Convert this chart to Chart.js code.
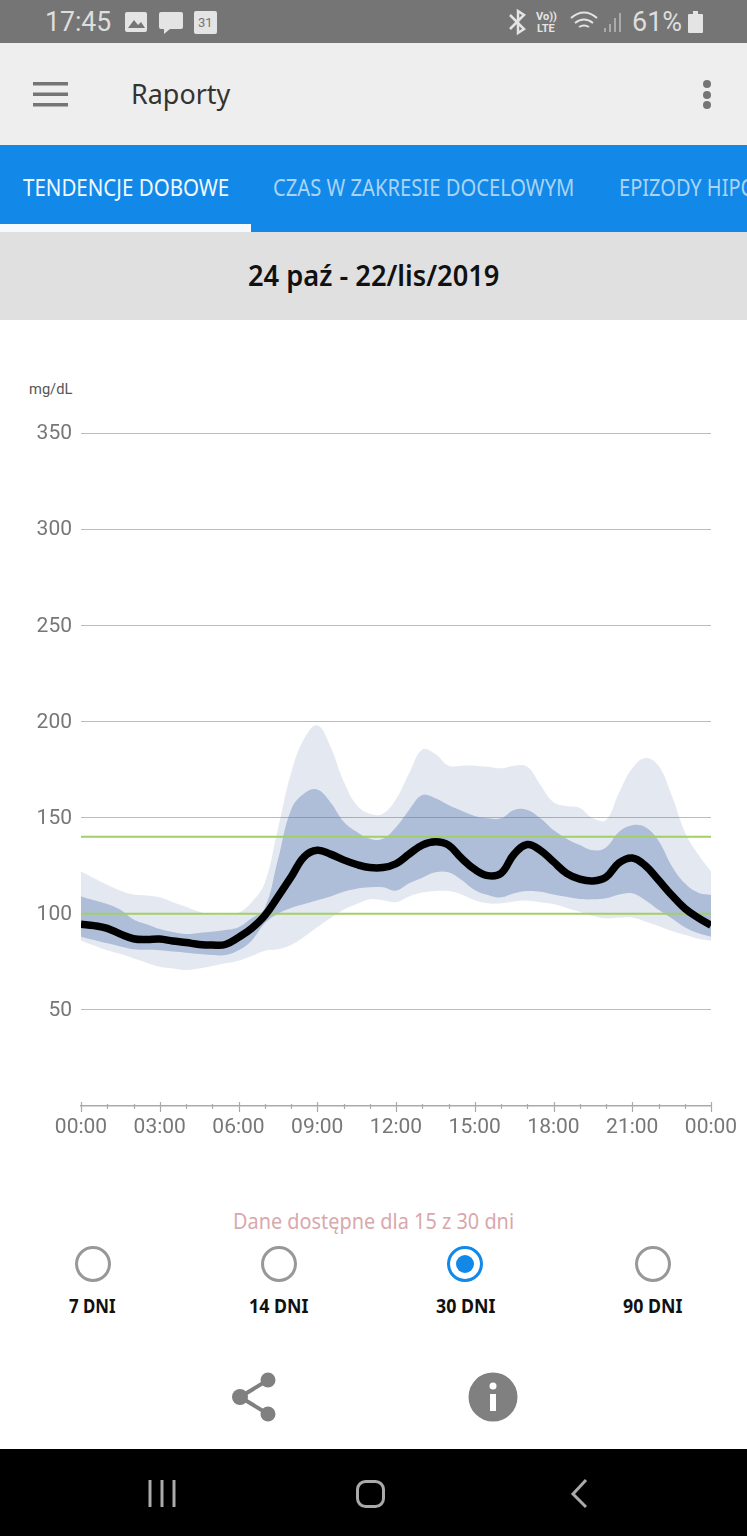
<!DOCTYPE html>
<html lang="pl">
<head>
<meta charset="utf-8">
<title>Raporty</title>
<script src="https://cdn.jsdelivr.net/npm/chart.js@4"></script>
<style>
  html, body { margin: 0; padding: 0; background: #fff; }
  body { position: relative; width: 747px; height: 1536px; overflow: hidden; font-family: "Noto Sans", sans-serif; }
  .box { position: absolute; }
  .t { position: absolute; white-space: nowrap; line-height: 1; transform-origin: left center; }
  svg { position: absolute; overflow: visible; }
  .radio { position: absolute; top: 1246px; width: 30px; height: 30px; border: 3.5px solid #989898; border-radius: 50%; }
  .radio.on { border-color: #1289e8; }
  .radio.on::after { content: ""; position: absolute; left: 6px; top: 6px; width: 18px; height: 18px; border-radius: 50%; background: #1289e8; }
  #wrap { position: absolute; left: 0; top: 370px; width: 747px; height: 780px; }
</style>
</head>
<body>
<div class="box" style="left:0;top:0;width:747px;height:43px;background:#757575"></div>
<div class="box" style="left:0;top:43px;width:747px;height:102px;background:#eeeeee"></div>
<div class="box" style="left:0;top:145px;width:747px;height:87px;background:#1289e8"></div>
<div class="box" style="left:0;top:224px;width:251px;height:8px;background:#f4fafd"></div>
<div class="box" style="left:0;top:232px;width:747px;height:88px;background:#e0e0e0"></div>
<div class="box" style="left:0;top:1449px;width:747px;height:87px;background:#000"></div>

<!-- status bar -->
<div class="t" data-w="66" style="left:45px;top:9px;font:27px/1 Roboto;color:#dedede">17:45</div>
<svg style="left:0;top:0" width="747" height="43" fill="#e4e4e4">
  <rect x="125" y="12" width="22" height="20" rx="2"/>
  <path d="M128 28l6-8 4 5 3-3 4 6z" fill="#757575"/>
  <path d="M161 12h20a2 2 0 0 1 2 2v13a2 2 0 0 1-2 2h-11l-6 5v-5h-3a2 2 0 0 1-2-2v-13a2 2 0 0 1 2-2z"/>
  <rect x="194" y="11" width="23" height="23" rx="2"/>
  <path d="M510 15l14 14-6 4v-22l6 4-14 14" fill="none" stroke="#e4e4e4" stroke-width="2.5"/>
  <path d="M571 18q13-11 26 0M575 23q9-7 18 0M579 27q5-3 10 0" fill="none" stroke="#e4e4e4" stroke-width="2"/>
  <rect x="604" y="28" width="2" height="4" fill="#aaa"/><rect x="609" y="24" width="2" height="8" fill="#aaa"/>
  <rect x="614" y="18" width="2" height="14" fill="#aaa"/><rect x="619" y="13" width="2" height="19" fill="#aaa"/>
  <rect x="688" y="14" width="15" height="19" rx="1"/><rect x="693" y="11" width="5" height="3"/>
</svg>
<div class="t" style="left:198px;top:16px;font:13px/1 Roboto;color:#757575">31</div>
<div class="t" style="left:536px;top:11px;font:bold 11px/1 Roboto;color:#e4e4e4">Vo))</div>
<div class="t" style="left:537px;top:23px;font:bold 11px/1 Roboto;color:#e4e4e4">LTE</div>
<div class="t" data-w="50" style="left:632px;top:9px;font:27px/1 Roboto;color:#dedede">61%</div>

<!-- app bar -->
<svg style="left:0;top:0" width="747" height="145" fill="#757575">
  <rect x="33" y="82" width="35" height="3.5"/><rect x="33" y="92.5" width="35" height="3.5"/><rect x="33" y="103" width="35" height="3.5"/>
  <circle cx="707" cy="84" r="4"/><circle cx="707" cy="95" r="4"/><circle cx="707" cy="105" r="4"/>
</svg>
<div class="t" data-w="99" style="left:131px;top:79px;font-size:28px;color:#333">Raporty</div>

<!-- tabs -->
<div class="t" data-w="206" style="left:23px;top:176px;font-size:23px;color:#f2f9fe">TENDENCJE DOBOWE</div>
<div class="t" data-w="301" style="left:273px;top:176px;font-size:23px;color:#a9d4f6">CZAS W ZAKRESIE DOCELOWYM</div>
<div class="t" id="tab3" style="left:619px;top:176px;font-size:23px;color:#a9d4f6;transform:scaleX(0.87)">EPIZODY HIPOGLIKEMII</div>

<!-- date -->
<div class="t" data-w="251" style="left:248px;top:261px;font-size:28px;font-weight:600;color:#111">24 paź - 22/lis/2019</div>

<!-- chart -->
<div class="t" data-w="43" style="left:29px;top:382px;font:14px/1 Roboto;color:#555">mg/dL</div>
<div id="wrap"><canvas id="myChart" width="747" height="780"></canvas></div>

<!-- footer -->
<div class="t" data-w="281" style="left:233px;top:1209px;font-size:22px;color:#d9a8ad">Dane dostępne dla 15 z 30 dni</div>
<div class="radio" style="left:75px"></div>
<div class="radio" style="left:261px"></div>
<div class="radio on" style="left:447px"></div>
<div class="radio" style="left:635px"></div>
<div class="t" data-w="47" style="left:69px;top:1297px;font-size:19px;font-weight:700;color:#111">7 DNI</div>
<div class="t" data-w="59" style="left:249px;top:1297px;font-size:19px;font-weight:700;color:#111">14 DNI</div>
<div class="t" data-w="59" style="left:436px;top:1297px;font-size:19px;font-weight:700;color:#111">30 DNI</div>
<div class="t" data-w="59" style="left:623px;top:1297px;font-size:19px;font-weight:700;color:#111">90 DNI</div>

<svg style="left:0;top:1360px" width="747" height="176">
  <path d="M268 20L240 37L268 54" fill="none" stroke="#808080" stroke-width="4"/>
  <circle cx="268" cy="20" r="7.5" fill="#808080"/><circle cx="240" cy="37" r="8" fill="#808080"/><circle cx="268" cy="54" r="7.5" fill="#808080"/>
  <circle cx="493" cy="37" r="24.5" fill="#808080"/>
  <rect x="490" y="34" width="6" height="17" fill="#fff"/><circle cx="493" cy="26" r="3.5" fill="#fff"/>
  <path d="M150 120v27M162 120v27M174 120v27" stroke="#aaa" stroke-width="3"/>
  <rect x="357.500" y="121.500" width="26" height="25" rx="8" fill="none" stroke="#aaa" stroke-width="3"/>
  <path d="M586 120L573 134L586 147" fill="none" stroke="#aaa" stroke-width="3"/>
</svg>

<script>
const hours = [0, 0.5, 1, 1.5, 2, 2.5, 3, 3.5, 4, 4.5, 5, 5.5, 6, 6.5, 7, 7.5, 8, 8.5, 9, 9.5, 10, 10.5, 11, 11.5,
  12, 12.5, 13, 13.5, 14, 14.5, 15, 15.5, 16, 16.5, 17, 17.5, 18, 18.5, 19, 19.5, 20, 20.5, 21, 21.5, 22, 22.5, 23, 23.5, 24];

const median = [94.5, 93.8, 92.4, 89.4, 87, 86.6, 86.8, 85.8, 85, 84, 83.7, 84, 87.7, 92.4, 99, 108.8, 119, 129.6, 133, 131, 128, 125.6, 124, 124,
  126, 131, 135.7, 137.4, 135.7, 128.8, 123, 119.8, 121, 131, 136, 133, 127, 121, 118, 117, 119, 126.5, 129, 125, 117.5, 109.7, 102.8, 98, 94];
const outerHigh = [122, 118.5, 115, 112, 110, 109.5, 108.5, 106, 103.6, 101, 99.8, 99.5, 100.5, 106, 116, 144, 173, 191, 198, 187, 169, 156.5, 152, 152,
  159.5, 173, 185.4, 183, 177, 177, 177, 176.4, 175.6, 177, 176.4, 167, 158, 156, 155, 149.6, 148.7, 163, 175.6, 181, 177, 161.7, 142.6, 131, 122];
const innerHigh = [109, 107, 105, 102, 97, 94.5, 92, 90.5, 89.4, 90, 90.6, 91.5, 93, 97.6, 103, 128, 154, 162.5, 164.6, 158, 148, 142.6, 139, 139,
  145, 154, 161.7, 160, 156.5, 153.5, 150.8, 149.6, 149.6, 154, 154, 149.6, 143.5, 139, 135.7, 133, 134.5, 142.6, 146, 145, 138, 125, 115.8, 111, 109.7];
const innerLow = [88, 86.3, 84.6, 83, 81.5, 81.2, 81, 80.3, 79.7, 79, 78.5, 78.5, 81, 86, 95, 100, 103, 105, 107, 109, 111.4, 113, 113.7, 113.7,
  112, 115.8, 118.7, 121.5, 121.5, 117.5, 112.3, 109.7, 108.5, 110.6, 111.8, 111.4, 110, 108.8, 107.6, 107.5, 108, 110, 110.6, 107, 102, 97.6, 93, 90, 88];
const outerLow = [86, 83.5, 81, 79, 76.8, 74.5, 72.4, 71.5, 70.7, 71.5, 72.8, 74.2, 75.6, 78, 80.8, 81.5, 83.7, 88, 93, 97.6, 102, 105, 107.5, 107,
  106, 109, 111, 111.8, 111.8, 110, 107, 105.4, 105.4, 106.4, 106.8, 106, 105, 103, 101, 98.8, 97.6, 98, 98, 96, 93.6, 91, 89, 87, 86];

const targetLow = 100;
const targetHigh = 140;
const yTicks = [50, 100, 150, 200, 250, 300, 350];
const xLabels = ['00:00', '03:00', '06:00', '09:00', '12:00', '15:00', '18:00', '21:00', '00:00'];

const points = (values) => values.map((y, i) => ({ x: hours[i], y }));
const flat = (y) => [{ x: 0, y }, { x: 24, y }];

// kreski co godzine na osi, dluzsze co 3 godziny
const axisTicks = {
  id: 'axisTicks',
  afterDraw(chart) {
    const { ctx, scales } = chart;
    const y0 = scales.y.getPixelForValue(0);
    ctx.save();
    ctx.strokeStyle = '#aaaaaa';
    ctx.lineWidth = 1.2;
    ctx.beginPath();
    for (let h = 0; h <= 24; h++) {
      const x = Math.round(scales.x.getPixelForValue(h)) + 0.5;
      const major = h % 3 === 0;
      ctx.moveTo(x, y0 - (major ? 4 : 2));
      ctx.lineTo(x, y0 + (major ? 6 : 3));
    }
    ctx.stroke();
    ctx.restore();
  },
};

const smooth = { pointRadius: 0, tension: 0.4 };

new Chart(document.getElementById('myChart'), {
  type: 'line',
  data: {
    datasets: [
      { ...smooth, data: points(outerHigh), fill: { target: 1 }, backgroundColor: 'rgba(60,91,155,0.14)', borderWidth: 0, order: 5 },
      { ...smooth, data: points(outerLow), fill: false, borderWidth: 0, order: 5 },
      { ...smooth, data: points(innerHigh), fill: { target: 3 }, backgroundColor: 'rgba(95,124,178,0.4)', borderWidth: 0, order: 4 },
      { ...smooth, data: points(innerLow), fill: false, borderWidth: 0, order: 4 },
      { data: flat(targetHigh), borderColor: '#a2cf68', borderWidth: 2, pointRadius: 0, fill: false, order: 2 },
      { data: flat(targetLow), borderColor: '#a2cf68', borderWidth: 2, pointRadius: 0, fill: false, order: 2 },
      { ...smooth, data: points(median), borderColor: '#000', borderWidth: 7.5, fill: false, order: 1 },
    ],
  },
  options: {
    responsive: false,
    animation: false,
    layout: { padding: { top: 63, right: 36, bottom: 0, left: 0 } },
    plugins: { legend: { display: false }, tooltip: { enabled: false } },
    scales: {
      x: {
        type: 'linear',
        min: 0,
        max: 24,
        afterBuildTicks: (scale) => { scale.ticks = xLabels.map((_, i) => ({ value: i * 3 })); },
        afterFit: (scale) => { scale.height = 44; },
        grid: { drawOnChartArea: false, drawTicks: false },
        border: { color: '#aaaaaa', width: 1.5 },
        ticks: {
          maxRotation: 0,
          autoSkip: false,
          padding: 9,
          color: '#777',
          font: { family: 'Roboto', size: 21 },
          callback: (value) => xLabels[value / 3],
        },
      },
      y: {
        min: 0,
        max: 350,
        afterBuildTicks: (scale) => { scale.ticks = yTicks.map((value) => ({ value })); },
        afterFit: (scale) => { scale.width = 81; },
        grid: { color: '#bbbbbb', lineWidth: 1, drawTicks: false },
        border: { display: false },
        ticks: {
          padding: 9,
          labelOffset: 1,
          color: '#777',
          font: { family: 'Roboto', size: 21 },
        },
      },
    },
  },
  plugins: [axisTicks],
});

// dopasowanie szerokosci tekstow do zrzutu
const fitted = document.querySelectorAll('.t[data-w]');
fitted.forEach((el) => {
  el.style.transform = `scaleX(${el.dataset.w / el.offsetWidth})`;
});
</script>
</body>
</html>
